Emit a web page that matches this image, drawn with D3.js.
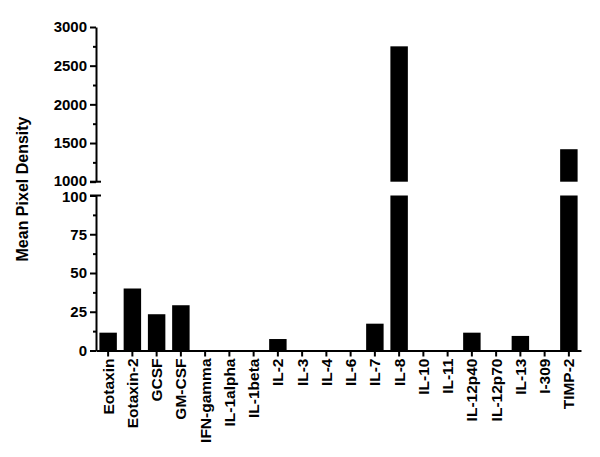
<!DOCTYPE html>
<html>
<head>
<meta charset="utf-8">
<script src="https://cdn.jsdelivr.net/npm/d3@7"></script>
<style>
  body { margin: 0; background: #fff; }
  text { font-family: Arial, "Liberation Sans", sans-serif; font-weight: bold; fill: #000; }
</style>
</head>
<body>
<div id="chart"></div>
<script>
// cytokine panel, mean pixel density
const categories = ['Eotaxin', 'Eotaxin-2', 'GCSF', 'GM-CSF', 'IFN-gamma', 'IL-1alpha', 'IL-1beta',
  'IL-2', 'IL-3', 'IL-4', 'IL-6', 'IL-7', 'IL-8', 'IL-10', 'IL-11', 'IL-12p40', 'IL-12p70',
  'IL-13', 'I-309', 'TIMP-2'];
const values = [11.5, 40, 23.4, 29.2, 0, 0, 0, 7.4, 0, 0, 0, 17.3, 2750, 0, 0, 11.5, 0, 9.4, 0, 1420];
const lowTicks = [0, 25, 50, 75, 100];
const highTicks = [1000, 1500, 2000, 2500, 3000];

const w = 600, h = 457;
const axisX = 96;

const svg = d3.select('#chart').append('svg').attr('width', w).attr('height', h);

// x band scale
const x = d3.scaleBand().domain(categories).range([axisX, 581]).paddingInner(0.28).paddingOuter(0.14);

// broken y axis: two segments
const yLow = d3.scaleLinear().domain([0, 100]).range([350.5, 195.5]);
const yHigh = d3.scaleLinear().domain([1000, 3000]).range([181.7, 27]);

// bars, lower segment
svg.append('g').selectAll('rect').data(values).enter().append('rect')
  .attr('x', (d, i) => x(categories[i]))
  .attr('width', x.bandwidth())
  .attr('y', d => yLow(Math.min(d, 100)))
  .attr('height', d => yLow(0) - yLow(Math.min(d, 100)))
  .attr('fill', '#000');

// bars, upper segment
svg.append('g').selectAll('rect').data(values.map((v, i) => ({v: v, c: categories[i]})).filter(d => d.v > 1000))
  .enter().append('rect')
  .attr('x', d => x(d.c))
  .attr('width', x.bandwidth())
  .attr('y', d => yHigh(d.v))
  .attr('height', d => yHigh(1000) - yHigh(d.v))
  .attr('fill', '#000');

function styleAxis(g) {
  g.selectAll('path, line').attr('stroke', '#000').attr('stroke-width', 2);
  g.selectAll('text').style('font-size', '15px').style('font-weight', 'bold').attr('fill', '#000');
}

// minor ticks
const minorLow = d3.range(12.5, 100, 25);
const minorHigh = d3.range(1250, 3000, 500);
svg.append('g').attr('transform', 'translate(' + axisX + ',0)')
  .call(d3.axisLeft(yLow).tickValues(minorLow).tickSize(3).tickFormat('').tickSizeOuter(0))
  .call(styleAxis).select('.domain').remove();
svg.append('g').attr('transform', 'translate(' + axisX + ',0)')
  .call(d3.axisLeft(yHigh).tickValues(minorHigh).tickSize(3).tickFormat('').tickSizeOuter(0))
  .call(styleAxis).select('.domain').remove();

// major ticks
const gLow = svg.append('g').attr('transform', 'translate(' + axisX + ',0)')
  .call(d3.axisLeft(yLow).tickValues(lowTicks).tickFormat(d3.format('d')).tickSize(6).tickPadding(3).tickSizeOuter(0))
  .call(styleAxis);
const gHigh = svg.append('g').attr('transform', 'translate(' + axisX + ',0)')
  .call(d3.axisLeft(yHigh).tickValues(highTicks).tickFormat(d3.format('d')).tickSize(6).tickPadding(3).tickSizeOuter(0))
  .call(styleAxis);
// the 1000 and 100 labels sit close together at the break
gHigh.selectAll('text').filter(d => d === 1000).attr('dy', '0.25em');
gLow.selectAll('text').filter(d => d === 100).attr('dy', '0.42em');

// break marks: ticks crossing the axis at the segment ends
svg.append('line').attr('x1', axisX - 6).attr('x2', axisX + 5)
  .attr('y1', yHigh(1000)).attr('y2', yHigh(1000)).attr('stroke', '#000').attr('stroke-width', 2);
svg.append('line').attr('x1', axisX - 6).attr('x2', axisX + 5)
  .attr('y1', yLow(100)).attr('y2', yLow(100)).attr('stroke', '#000').attr('stroke-width', 2);

// x axis
const gx = svg.append('g').attr('transform', 'translate(0,' + yLow(0) + ')')
  .call(d3.axisBottom(x).tickSize(6).tickSizeOuter(0))
  .call(styleAxis);
gx.selectAll('text')
  .attr('transform', 'rotate(-90)')
  .attr('text-anchor', 'end')
  .attr('x', -8)
  .attr('y', 0)
  .attr('dy', '0.35em')
  .style('font-size', '15.5px');

// y title
svg.append('text')
  .attr('transform', 'translate(28,189) rotate(-90)')
  .attr('text-anchor', 'middle')
  .style('font-size', '16px')
  .text('Mean Pixel Density');
</script>
</body>
</html>
